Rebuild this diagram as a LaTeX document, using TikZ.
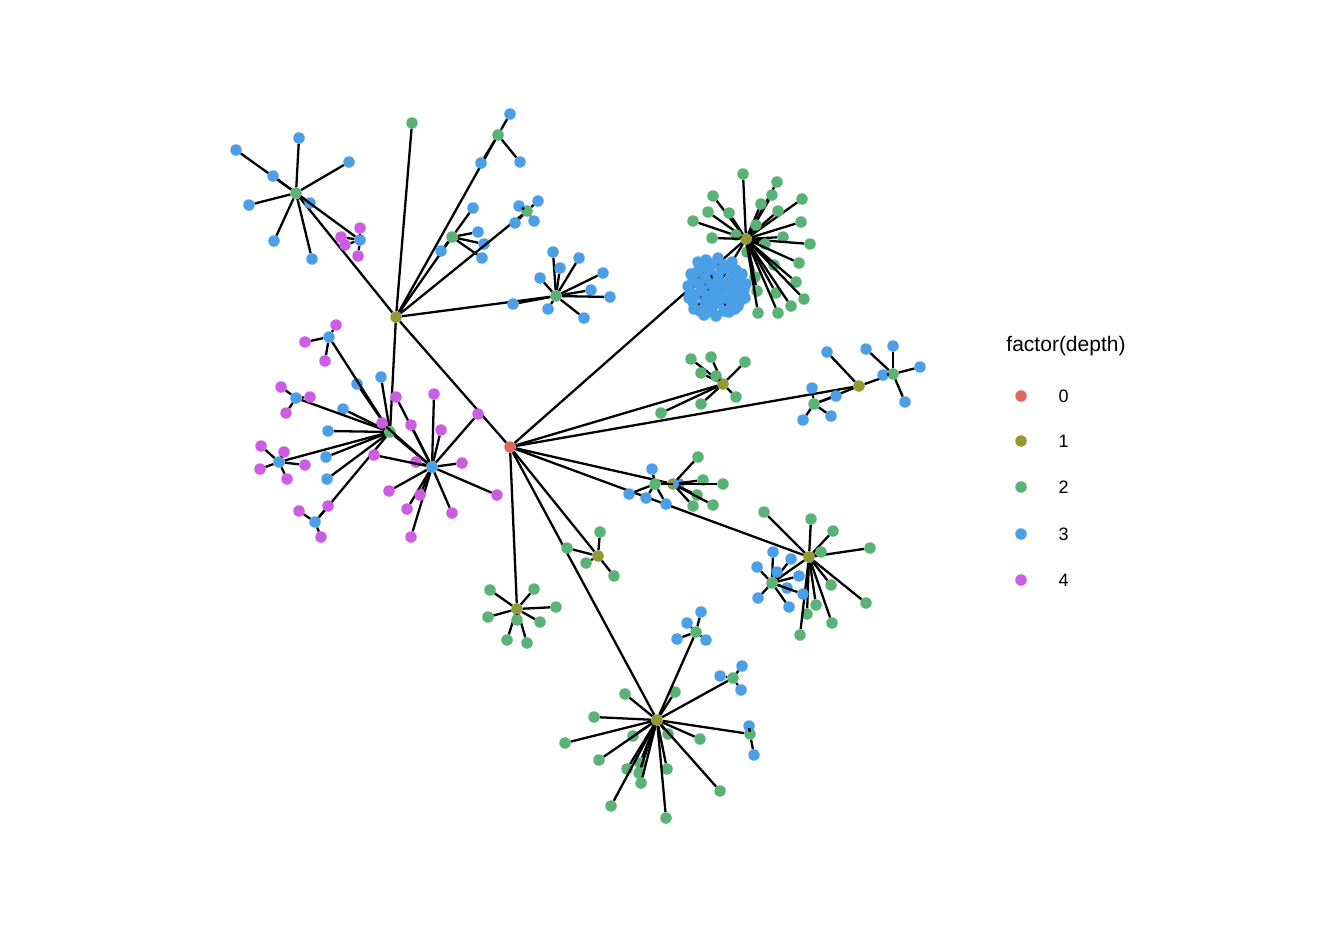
\documentclass[tikz,border=0pt]{standalone}
\usepackage{fontspec}
\setmainfont{Liberation Sans}
\definecolor{k0}{HTML}{E0675E}
\definecolor{k1}{HTML}{949A32}
\definecolor{k2}{HTML}{5AB275}
\definecolor{k3}{HTML}{4A9FE6}
\definecolor{k4}{HTML}{CC5CE2}
\tikzset{dot/.style={circle,inner sep=0pt,minimum size=11.5pt},
c0/.style={dot,fill=k0},c1/.style={dot,fill=k1},c2/.style={dot,fill=k2},
c3/.style={dot,fill=k3},c4/.style={dot,fill=k4},
edge/.style={black,line width=2.3pt},
lab/.style={font=\fontsize{18}{21}\selectfont,anchor=west}}
\newcommand\kids[3]{\foreach \p [count=\i] in {#3} {\node[#1] (#2-\i) at (\p) {}; \draw[edge] (#2) -- (#2-\i);}}
\newcommand\blobkids[3]{\foreach \p [count=\i] in {#3} {\coordinate (#2-c\i) at (\p); \draw[edge] (#2) -- (#2-c\i);}
  \foreach \p [count=\i] in {#3} {\node[#1] (#2-\i) at (\p) {};}}
\newcommand\one[4]{\node[#1] (#2) at (#3) {}; \draw[edge] (#4) -- (#2);}
\begin{document}
\begin{tikzpicture}[x=1pt,y=-1pt]
\useasboundingbox (0,0) rectangle (1344,940);
\node[c0] (R) at (510,447) {};
% depth 1
\one{c1}{A}{396,317}{R}
\one{c1}{B}{746,239}{R}
\one{c1}{C}{859,386}{R}
\one{c1}{H}{723,384}{R}
\one{c1}{H2}{673,484}{R}
\one{c1}{D}{809,557}{R}
\one{c1}{E}{598,556}{R}
\one{c1}{F}{517,609}{R}
\one{c1}{G}{657,720}{R}
% A subtree
\one{c2}{TL}{296,193}{A}
\kids{c3}{TL}{{236,150},{273,176},{299,138},{349,162},{249,205},{274,241},{312,259},{310,203}}
\one{c3}{TLb}{360,240}{TL}
\kids{c4}{TLb}{{341,237},{345,245},{360,228},{358,256}}
\one{c2}{Aa}{412,123}{A}
\one{c2}{Ab}{498,135}{A}
\kids{c3}{Ab}{{510,114},{520,162},{481,163}}
\one{c2}{Ac}{452,237}{A}
\kids{c3}{Ac}{{473,208},{441,251},{478,232},{484,244},{482,258}}
\one{c2}{Ad}{527,211}{A}
\kids{c3}{Ad}{{519,206},{538,201},{534,221},{515,223}}
\one{c2}{Ae}{556,296}{A}
\kids{c3}{Ae}{{553,252},{579,258},{540,278},{560,268},{591,290},{603,273},{610,297},{548,309},{584,318},{513,304}}
\one{c2}{G2}{390,432}{A}
\kids{c3}{G2}{{357,384},{381,377},{343,409},{328,431},{326,457},{327,479}}
\one{c3}{G2a}{329,337}{G2}
\kids{c4}{G2a}{{336,325},{305,342},{325,361}}
\one{c3}{G2b}{296,398}{G2}
\kids{c4}{G2b}{{281,387},{310,397},{286,413}}
\one{c3}{G2c}{279,462}{G2}
\kids{c4}{G2c}{{261,446},{284,452},{260,469},{305,465},{287,479}}
\one{c3}{G2d}{315,522}{G2}
\kids{c4}{G2d}{{299,511},{328,506},{321,537}}
\one{c3}{B3}{432,467}{G2}
\kids{c4}{B3}{{396,397},{411,425},{382,423},{434,394},{441,430},{478,414},{462,463},{497,495},{452,513},{411,537},{407,509},{420,495},{389,491},{416,462},{374,455}}
% B subtree
\one{c2}{Bb}{716,288}{B}
\blobkids{c3}{Bb}{{716,288},{700,268},{712,264},{724,265},{736,270},{693,280},{705,278},{718,276},{730,279},{741,282},{690,292},{702,290},{714,292},{727,290},{739,292},{693,302},{705,302},{718,303},{731,302},{741,300},{700,311},{712,312},{724,311},{735,309},{698,262},{710,306},{722,296},{688,286},{744,290},{728,268},{707,296},{733,294},{695,296},{719,283},{706,260},{718,258},{732,262},{742,274},{746,284},{745,298},{738,306},{729,312},{716,316},{704,315},{694,309},{689,298},{691,274},{699,284},{711,284},{723,284},{734,286},{711,298},{724,298},{697,272},{709,270},{721,270},{733,274}}
\kids{c2}{B}{{743,174},{777,182},{772,195},{713,196},{802,199},{761,204},{729,213},{708,212},{778,211},{693,221},{801,222},{756,225},{736,235},{712,238},{783,237},{810,244},{765,244},{747,252},{799,263},{774,265},{755,277},{796,282},{757,291},{776,293},{804,299},{791,306},{758,313},{778,313}}
% C subtree
\one{c3}{Ca}{827,352}{C}
\one{c2}{Cb}{893,374}{C}
\kids{c3}{Cb}{{866,349},{893,346},{920,367},{905,402},{883,375}}
\one{c2}{Cc}{814,404}{C}
\kids{c3}{Cc}{{812,388},{836,396},{803,420},{831,416}}
% H subtree
\kids{c2}{H}{{691,359},{711,357},{745,362},{701,373},{716,376},{736,397},{701,404},{661,413}}
% H2 subtree
\one{c2}{Hg}{655,484}{H2}
\kids{c3}{Hg}{{652,469},{629,494},{646,498},{666,504},{679,484}}
\kids{c2}{H2}{{698,457},{703,480},{723,484},{697,495},{693,506},{713,505}}
% D subtree
\kids{c2}{D}{{764,512},{811,519},{833,531},{870,548},{821,552},{831,585},{866,603},{816,605},{832,623},{807,614},{800,635}}
\one{c2}{Dg}{772,583}{D}
\kids{c3}{Dg}{{773,552},{791,559},{757,567},{777,572},{799,576},{787,588},{803,594},{758,598},{789,607}}
% E, F
\kids{c2}{E}{{567,548},{600,532},{586,563},{614,576}}
\kids{c2}{F}{{490,590},{534,589},{556,607},{488,617},{540,622},{527,643},{507,640},{517,620}}
% G subtree
\kids{c2}{G}{{625,694},{675,692},{594,717},{565,743},{633,736},{668,734},{700,739},{599,760},{627,769},{640,763},{639,773},{641,783},{667,769},{611,806},{666,818},{720,791}}
\one{c2}{Ga}{696,632}{G}
\kids{c3}{Ga}{{701,612},{687,623},{677,639},{706,640}}
\one{c2}{Gb}{733,678}{G}
\kids{c3}{Gb}{{742,666},{720,676},{741,690}}
\one{c2}{Gc}{750,734}{G}
\kids{c3}{Gc}{{749,726},{754,755}}
% legend
\node[font=\fontsize{21}{25}\selectfont] (T) at (1066,346) {factor(depth)};
\foreach \c/\y in {0/396,1/441,2/487,3/534,4/580}{
  \node[c\c] (L\c) at (1021,\y) {};
  \node[lab] (LT\c) at (1055,\y) {\c};}
\end{tikzpicture}
\end{document}
